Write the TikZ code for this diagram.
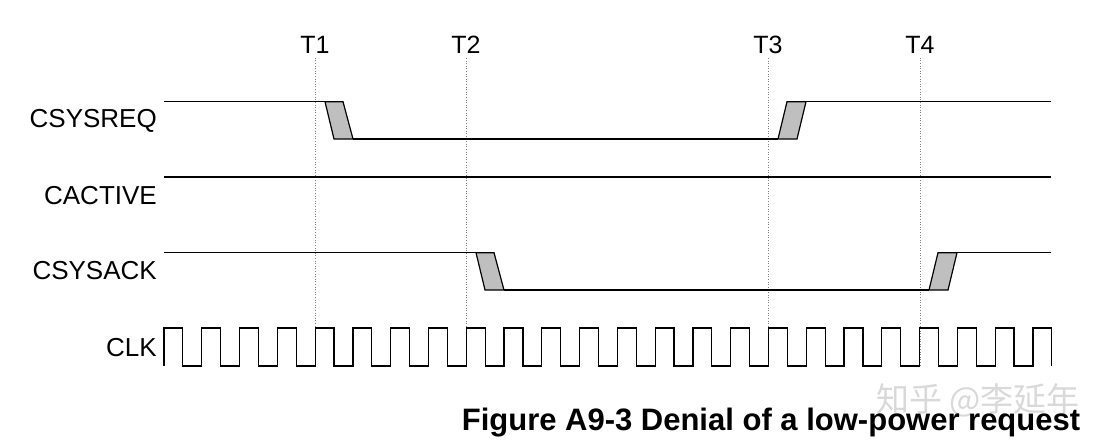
\documentclass[tikz,border=0pt]{standalone}
\usepackage{fontspec}
\setmainfont{Liberation Sans}
\newfontfamily\cjk{Noto Sans CJK SC}
\begin{document}
\begin{tikzpicture}[x=1pt,y=-1pt,
  sig/.style={line width=1.2pt},
  edge/.style={line width=1.2pt,fill=gray!50},
  guide/.style={dotted,gray,line width=0.6pt},
  lbl/.style={anchor=east,font=\fontsize{26}{26}\selectfont,inner sep=0pt},
  tl/.style={font=\fontsize{25}{25}\selectfont,inner sep=0pt}]
\useasboundingbox (0,0) rectangle (1111,447);
% guides
\foreach \n/\x in {1/315,2/466,3/768,4/920}{
  \node[tl] (t\n) at (\x,45) {T\n};
  \coordinate (gb\n) at (\x,366);
  \draw[guide] (t\n.south) ++(0,4) -- (gb\n);
}
% labels
\node[lbl] (lreq) at (157,121) {CSYSREQ};
\node[lbl] (lact) at (157,196) {CACTIVE};
\node[lbl] (lack) at (157,271) {CSYSACK};
\node[lbl] (lclk) at (157,348) {CLK};
% CSYSREQ
\draw[sig] (164,101.7) -- (325,101.7);
\draw[edge] (325,101.7) -- (343,101.7) -- (353,139) -- (334,139) -- cycle;
\draw[sig] (353,139) -- (778,139);
\draw[edge] (778,139) -- (797,139) -- (806,101.7) -- (787,101.7) -- cycle;
\draw[sig] (806,101.7) -- (1051,101.7);
% CACTIVE
\draw[sig] (164,177) -- (1051,177);
% CSYSACK
\draw[sig] (164,252.7) -- (476,252.7);
\draw[edge] (476,252.7) -- (494,252.7) -- (504,290) -- (485,290) -- cycle;
\draw[sig] (504,290) -- (929,290);
\draw[edge] (929,290) -- (948,290) -- (957,252.7) -- (938,252.7) -- cycle;
\draw[sig] (957,252.7) -- (1051,252.7);
% CLK
\draw[sig,line join=miter] (164,366)
  \foreach \i in {0,...,23}{ -- ({164+\i*37.78},328) -- ({164+\i*37.78+18.89},328) -- ({164+\i*37.78+18.89},366) \ifnum\i<23 -- ({164+(\i+1)*37.78},366)\fi};
% watermark and caption
\node[text=gray!30,font=\cjk\fontsize{33}{33}\selectfont,inner sep=0pt] (wm) at (978,400) {知乎 @李延年};
\node[font=\bfseries\fontsize{31}{31}\selectfont,inner sep=0pt] (cap) at (771,423) {Figure A9-3 Denial of a low-power request};
\end{tikzpicture}
\end{document}
